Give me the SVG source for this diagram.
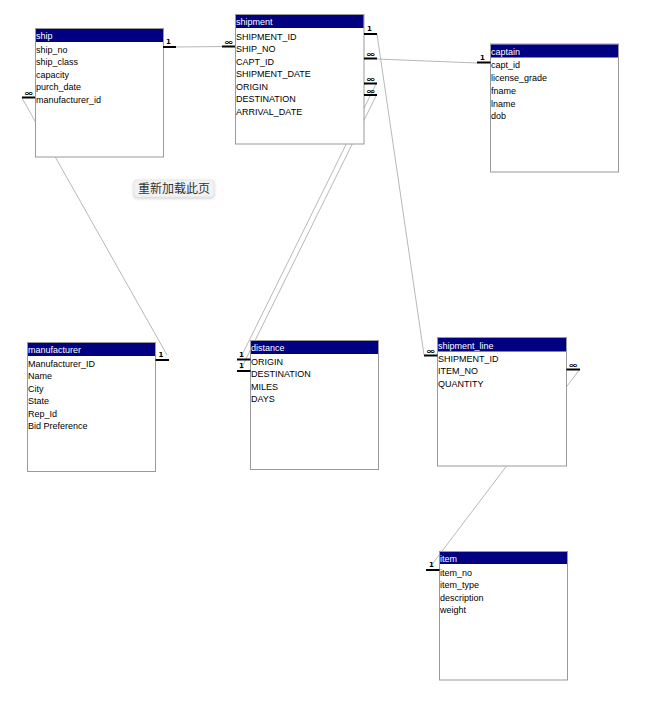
<svg xmlns="http://www.w3.org/2000/svg" width="666" height="704" viewBox="0 0 666 704">
<defs>
<style>
.box{fill:#fff;stroke:#999;stroke-width:1}
.ttl{fill:#000080}
.tt{font-family:"Liberation Sans",Arial,sans-serif;font-size:9px;fill:#fff}
.row{font-family:"Liberation Sans",Arial,sans-serif;font-size:9px;fill:#000}
.conn line{stroke:#b8b8b8;stroke-width:1;fill:none}
.bar{stroke:#000;stroke-width:2}
.one{font-family:"DejaVu Sans",sans-serif;font-size:7px;font-weight:bold;fill:#000}
.inf{font-family:"DejaVu Sans",sans-serif;font-size:8px;font-weight:bold;fill:#000;text-anchor:middle}
.btn{font-family:"Noto Sans CJK SC","Noto Sans",sans-serif;font-size:12px;fill:#333}
</style>
<filter id="sh" x="-20%" y="-40%" width="140%" height="200%">
<feDropShadow dx="0" dy="1" stdDeviation="1.5" flood-color="#000" flood-opacity="0.25"/>
</filter>
</defs>
<rect width="666" height="704" fill="#fff"/>

<g id="connectors" class="conn">
<line x1="176" y1="47" x2="222" y2="46.5"/>
<line x1="377" y1="34" x2="424" y2="355"/>
<line x1="377" y1="59" x2="477" y2="63"/>
<line x1="376" y1="84" x2="241" y2="357"/>
<line x1="376" y1="96" x2="241" y2="369"/>
<line x1="22" y1="98" x2="167" y2="355"/>
<line x1="580" y1="369" x2="430" y2="567"/>
</g>

<g id="ship">
<rect class="box" x="35.5" y="28.5" width="128" height="128.5"/>
<rect class="ttl" x="36" y="29" width="127" height="13"/>
<text class="tt" x="36" y="39">ship</text>
<text class="row" x="36" y="52.5">ship_no</text>
<text class="row" x="36" y="65">ship_class</text>
<text class="row" x="36" y="77.5">capacity</text>
<text class="row" x="36" y="90">purch_date</text>
<text class="row" x="36" y="102.5">manufacturer_id</text>
</g>

<g id="shipment">
<rect class="box" x="235.5" y="14.5" width="128.5" height="129.5"/>
<rect class="ttl" x="236" y="15" width="127.5" height="13"/>
<text class="tt" x="236" y="25">shipment</text>
<text class="row" x="236" y="39.5">SHIPMENT_ID</text>
<text class="row" x="236" y="52">SHIP_NO</text>
<text class="row" x="236" y="64.5">CAPT_ID</text>
<text class="row" x="236" y="77">SHIPMENT_DATE</text>
<text class="row" x="236" y="89.5">ORIGIN</text>
<text class="row" x="236" y="102">DESTINATION</text>
<text class="row" x="236" y="114.5">ARRIVAL_DATE</text>
</g>

<g id="captain">
<rect class="box" x="490.5" y="44" width="128" height="128"/>
<rect class="ttl" x="491" y="44.5" width="127" height="13"/>
<text class="tt" x="491" y="54.5">captain</text>
<text class="row" x="491" y="67.5">capt_id</text>
<text class="row" x="491" y="80.5">license_grade</text>
<text class="row" x="491" y="93.5">fname</text>
<text class="row" x="491" y="106.5">lname</text>
<text class="row" x="491" y="119">dob</text>
</g>

<g id="manufacturer">
<rect class="box" x="27.5" y="342.5" width="128" height="129"/>
<rect class="ttl" x="28" y="343" width="127" height="13"/>
<text class="tt" x="28" y="353">manufacturer</text>
<text class="row" x="28" y="366.5">Manufacturer_ID</text>
<text class="row" x="28" y="379">Name</text>
<text class="row" x="28" y="391.5">City</text>
<text class="row" x="28" y="404">State</text>
<text class="row" x="28" y="416.5">Rep_Id</text>
<text class="row" x="28" y="429">Bid Preference</text>
</g>

<g id="distance">
<rect class="box" x="250.5" y="340.5" width="128" height="129"/>
<rect class="ttl" x="251" y="341" width="127" height="13"/>
<text class="tt" x="251" y="351">distance</text>
<text class="row" x="251" y="364.5">ORIGIN</text>
<text class="row" x="251" y="377">DESTINATION</text>
<text class="row" x="251" y="389.5">MILES</text>
<text class="row" x="251" y="402">DAYS</text>
</g>

<g id="shipment_line">
<rect class="box" x="437.5" y="337.5" width="129" height="128.5"/>
<rect class="ttl" x="438" y="338" width="128" height="13.5"/>
<text class="tt" x="438" y="348.5">shipment_line</text>
<text class="row" x="438" y="361.5">SHIPMENT_ID</text>
<text class="row" x="438" y="374">ITEM_NO</text>
<text class="row" x="438" y="386.5">QUANTITY</text>
</g>

<g id="item">
<rect class="box" x="439.5" y="551.5" width="128" height="128.5"/>
<rect class="ttl" x="440" y="552" width="127" height="12"/>
<text class="tt" x="440" y="561.5">item</text>
<text class="row" x="440" y="575.5">item_no</text>
<text class="row" x="440" y="588">item_type</text>
<text class="row" x="440" y="600.5">description</text>
<text class="row" x="440" y="613">weight</text>
</g>

<g id="markers">
<line class="bar" x1="163" y1="47" x2="176" y2="47"/><text class="one" x="166" y="44">1</text>
<line class="bar" x1="222" y1="46.5" x2="235" y2="46.5"/><text class="inf" transform="translate(228.5 45) scale(1.5 1)">∞</text>
<line class="bar" x1="364" y1="34" x2="377" y2="34"/><text class="one" x="367" y="31">1</text>
<line class="bar" x1="364" y1="58.5" x2="377" y2="58.5"/><text class="inf" transform="translate(370.5 57) scale(1.5 1)">∞</text>
<line class="bar" x1="364" y1="83.5" x2="377" y2="83.5"/><text class="inf" transform="translate(370.5 82) scale(1.5 1)">∞</text>
<line class="bar" x1="364" y1="95" x2="377" y2="95"/><text class="inf" transform="translate(370.5 93.5) scale(1.5 1)">∞</text>
<line class="bar" x1="477" y1="62.5" x2="490.5" y2="62.5"/><text class="one" x="480" y="59.5">1</text>
<line class="bar" x1="22" y1="97.5" x2="35" y2="97.5"/><text class="inf" transform="translate(28.5 96) scale(1.5 1)">∞</text>
<line class="bar" x1="155.5" y1="360" x2="169" y2="360"/><text class="one" x="158.5" y="357">1</text>
<line class="bar" x1="237" y1="359.5" x2="250.5" y2="359.5"/><text class="one" x="239" y="356.5">1</text>
<line class="bar" x1="237" y1="371" x2="250.5" y2="371"/><text class="one" x="239" y="368">1</text>
<line class="bar" x1="424" y1="355.5" x2="437.5" y2="355.5"/><text class="inf" transform="translate(430.5 354) scale(1.5 1)">∞</text>
<line class="bar" x1="566.5" y1="369.5" x2="580" y2="369.5"/><text class="inf" transform="translate(573 368) scale(1.5 1)">∞</text>
<line class="bar" x1="426" y1="570" x2="439.5" y2="570"/><text class="one" x="429" y="567">1</text>
</g>

<g id="reload_button">
<rect x="134" y="180" width="80" height="17" rx="3" fill="#f2f2f2" stroke="#d8d8d8" stroke-width="0.5" filter="url(#sh)"/>
<text class="btn" x="174" y="193" text-anchor="middle">重新加载此页</text>
</g>
</svg>
